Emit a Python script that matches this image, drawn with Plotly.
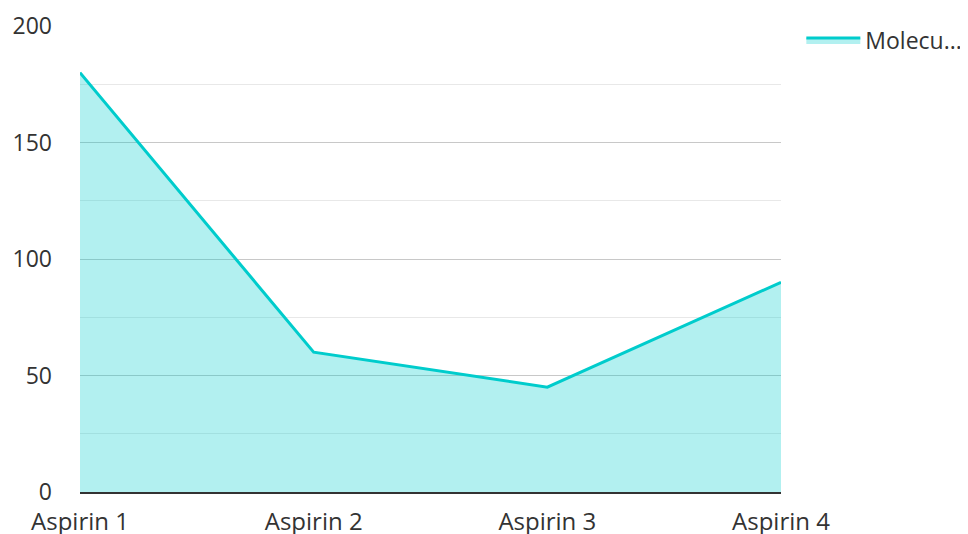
import plotly.graph_objects as go

categories = ["Aspirin 1", "Aspirin 2", "Aspirin 3", "Aspirin 4"]
values = [180, 60, 45, 90]
series_name = "Molecu..."

fig = go.Figure()
fig.add_trace(go.Scatter(
    x=categories, y=values, name=series_name, mode="lines",
    line=dict(color="#00cccc", width=3),
    fill="tozeroy", fillcolor="rgba(0,204,204,0.30)",
    showlegend=True,
))

fig.update_layout(
    width=968, height=534,
    margin=dict(l=72, r=195, t=18, b=50, autoexpand=False),
    paper_bgcolor="white", plot_bgcolor="white",
    font=dict(family="Open Sans", size=24, color="#333333"),
    xaxis=dict(
        type="category", range=[0, 3], showgrid=False,
        showline=True, linecolor="#333333", linewidth=2,
        ticks="", tickfont=dict(size=24, color="#333333"),
        zeroline=False, ticklabelstandoff=7,
    ),
    yaxis=dict(
        range=[0, 200], dtick=50, tick0=0, showgrid=True,
        gridcolor="#c8c8c8", gridwidth=1, zeroline=False,
        showline=False, ticks="", ticklen=0,
        tickfont=dict(size=23, color="#333333"),
        minor=dict(dtick=25, tick0=0, showgrid=True, gridcolor="#e8e8e8", gridwidth=1),
        ticklabelstandoff=27,
    ),
    legend=dict(x=1.029, y=1.016, xanchor="left", yanchor="top", itemwidth=54,
                font=dict(size=23, color="#333333"), bgcolor="rgba(0,0,0,0)"),
)

fig.write_html("out.html")
